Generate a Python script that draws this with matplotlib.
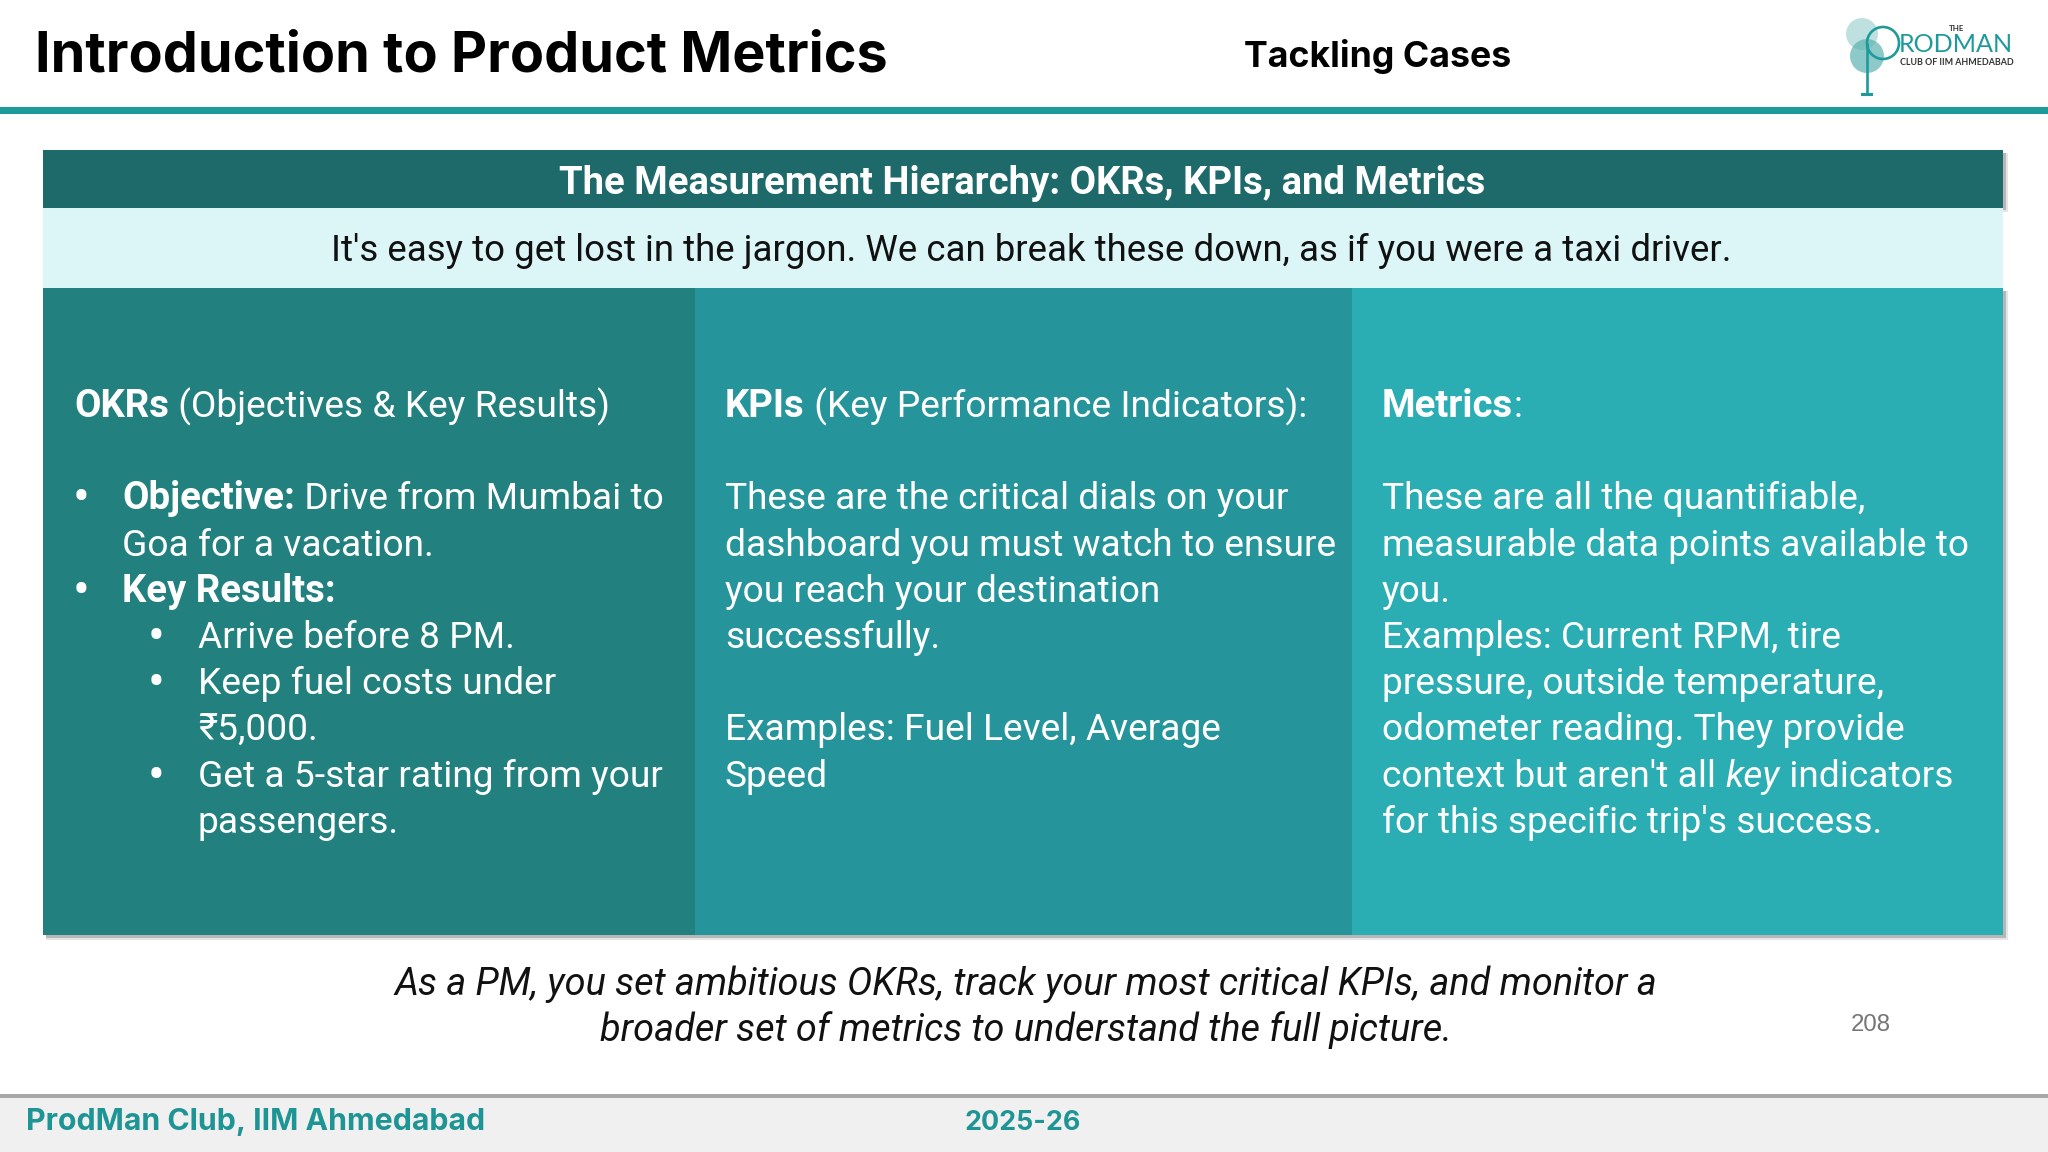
import matplotlib
matplotlib.use("Agg")
import matplotlib.pyplot as plt
from matplotlib.patches import Rectangle, Circle

W, H = 2048, 1152

# text content
title = "Introduction to Product Metrics"
section = "Tackling Cases"
band_title = "The Measurement Hierarchy: OKRs, KPIs, and Metrics"
band_sub = "It's easy to get lost in the jargon. We can break these down, as if you were a taxi driver."
closing = ["As a PM, you set ambitious OKRs, track your most critical KPIs, and monitor a",
           "broader set of metrics to understand the full picture."]
page_no = "208"
footer_left = "ProdMan Club, IIM Ahmedabad"
footer_mid = "2025-26"

# each line: (level, line slot, runs) - level 0 plain, 1 bullet, 2 sub bullet
okr_lines = [
    (0, 0, [("OKRs", "b"), (" (Objectives & Key Results)", "n")]),
    (1, 2, [("Objective:", "b"), (" Drive from Mumbai to", "n")]),
    (-1, 3, [("Goa for a vacation.", "n")]),
    (1, 4, [("Key Results:", "b")]),
    (2, 5, [("Arrive before 8 PM.", "n")]),
    (2, 6, [("Keep fuel costs under", "n")]),
    (-2, 7, [("₹5,000.", "n")]),
    (2, 8, [("Get a 5-star rating from your", "n")]),
    (-2, 9, [("passengers.", "n")]),
]
kpi_lines = [
    (0, 0, [("KPIs", "b"), (" (Key Performance Indicators):", "n")]),
    (0, 2, [("These are the critical dials on your", "n")]),
    (0, 3, [("dashboard you must watch to ensure", "n")]),
    (0, 4, [("you reach your destination", "n")]),
    (0, 5, [("successfully.", "n")]),
    (0, 7, [("Examples: Fuel Level, Average", "n")]),
    (0, 8, [("Speed", "n")]),
]
metric_lines = [
    (0, 0, [("Metrics", "b"), (":", "n")]),
    (0, 2, [("These are all the quantifiable,", "n")]),
    (0, 3, [("measurable data points available to", "n")]),
    (0, 4, [("you.", "n")]),
    (0, 5, [("Examples: Current RPM, tire", "n")]),
    (0, 6, [("pressure, outside temperature,", "n")]),
    (0, 7, [("odometer reading. They provide", "n")]),
    (0, 8, [("context but aren't all ", "n"), ("key", "i"), (" indicators", "n")]),
    (0, 9, [("for this specific trip's success.", "n")]),
]

panel_colors = ["#22817f", "#25959b", "#2aadb3"]
panel_edges = [43, 695, 1352, 2003]
panel_text_x = [74, 725, 1382]

fig = plt.figure(figsize=(W / 100, H / 100), dpi=100, facecolor="white")
ax = fig.add_axes([0, 0, 1, 1])
ax.set_xlim(0, W)
ax.set_ylim(H, 0)
ax.axis("off")

BODY = ["Roboto", "Noto Sans", "DejaVu Sans"]
HEAD = ["Inter", "DejaVu Sans"]
body_size = 26.75
bold_size = 27.6
line_gap = 46.2
first_base = 417


def rect(x0, y0, x1, y1, color, **kw):
    ax.add_patch(Rectangle((x0, y0), x1 - x0, y1 - y0, facecolor=color, edgecolor="none", **kw))


def run_width(s, size, weight, style):
    # dots on both ends so that spaces at the ends get counted
    r = fig.canvas.get_renderer()
    a = ax.text(0, 0, "." + s + ".", family=BODY, fontsize=size, weight=weight, style=style)
    b = ax.text(0, 0, "..", family=BODY, fontsize=size, weight=weight, style=style)
    w = a.get_window_extent(r).width - b.get_window_extent(r).width
    a.remove()
    b.remove()
    return w


def draw_runs(x, y, runs, color="white"):
    for s, kind in runs:
        weight = "bold" if kind == "b" else "normal"
        style = "italic" if kind == "i" else "normal"
        size = bold_size if kind == "b" else body_size
        ax.text(x, y, s, family=BODY, fontsize=size, weight=weight, style=style,
                color=color, va="baseline", ha="left")
        x += run_width(s, size, weight, style)


# header and footer
ax.text(35, 71, title, family=HEAD, fontsize=40.1, weight="bold", color="black", va="baseline")
ax.text(1378, 67, section, family=HEAD, fontsize=25.7, weight="bold", color="black", va="baseline", ha="center")
rect(0, 107, W, 114, "#1f9a9a")
rect(0, 1094, W, 1098, "#a8a8a8")
rect(0, 1098, W, H, "#f0f0f0")
ax.text(26, 1130, footer_left, family=HEAD, fontsize=21.8, weight="bold", color="#1f9494", va="baseline")
ax.text(1023, 1130, footer_mid, family=HEAD, fontsize=19.3, weight="bold", color="#1f9494", va="baseline", ha="center")

# logo
ax.add_patch(Circle((1862, 34), 16, facecolor="#a9d8d6", alpha=0.75, edgecolor="none"))
ax.add_patch(Circle((1867, 56), 17, facecolor="#5cb3b1", alpha=0.7, edgecolor="none"))
ax.add_patch(Circle((1883, 43), 16, facecolor="none", edgecolor="#1f9a9a", linewidth=1.9))
ax.plot([1867, 1867], [43, 94], color="#1f9a9a", linewidth=1.9, solid_capstyle="butt")
ax.plot([1862, 1871], [94, 94], color="#1f9a9a", linewidth=2.2)
ax.text(1899, 52, "RODMAN", family="Lato", fontsize=18.1, color="#1f9a9a", va="baseline")
ax.text(1957, 31, "THE", family="Lato", fontsize=5.8, weight="bold", color="#333333", va="baseline", ha="center")
ax.text(1900, 65, "CLUB OF IIM AHMEDABAD", family="Lato", fontsize=6.4, weight="bold", color="#333333", va="baseline")

# soft shadow, only on the dark band and the panels
rect(46, 153, 2008, 212, "#9a9a9a", alpha=0.25)
rect(46, 153, 2006, 210, "#8a8a8a", alpha=0.5)
rect(46, 291, 2008, 940, "#9a9a9a", alpha=0.25)
rect(46, 291, 2006, 938, "#8a8a8a", alpha=0.5)

# bands
rect(43, 150, 2003, 208, "#1e6a6b")
rect(43, 208, 2003, 288, "#dcf6f8")
ax.text(1022, 179, band_title, family=BODY, fontsize=27.5, weight="bold", color="white", va="center_baseline", ha="center")
ax.text(1031, 247, band_sub, family=BODY, fontsize=26.4, color="#111111", va="center_baseline", ha="center")

# three panels
for i in range(3):
    rect(panel_edges[i], 288, panel_edges[i + 1], 935, panel_colors[i])

for col, lines in enumerate([okr_lines, kpi_lines, metric_lines]):
    x0 = panel_text_x[col]
    for level, slot, runs in lines:
        y = first_base + slot * line_gap
        if abs(level) == 1:
            x = x0 + 48
            if level > 0:
                ax.text(x0 - 1, y + 4, "•", family=BODY, fontsize=body_size * 1.35, color="white", va="baseline")
        elif abs(level) == 2:
            x = x0 + 124
            if level > 0:
                ax.text(x0 + 74, y + 4, "•", family=BODY, fontsize=body_size * 1.35, color="white", va="baseline")
        else:
            x = x0
        draw_runs(x, y, runs)

# closing note
for i, line in enumerate(closing):
    ax.text(1026, 995 + i * 46, line, family=BODY, fontsize=27.3, style="italic", color="#111111", va="baseline", ha="center")
ax.text(1871, 1031, page_no, family="Liberation Sans", fontsize=17.3, color="#757575", va="baseline", ha="center")

fig.savefig("out.png", dpi=100, facecolor="white")
